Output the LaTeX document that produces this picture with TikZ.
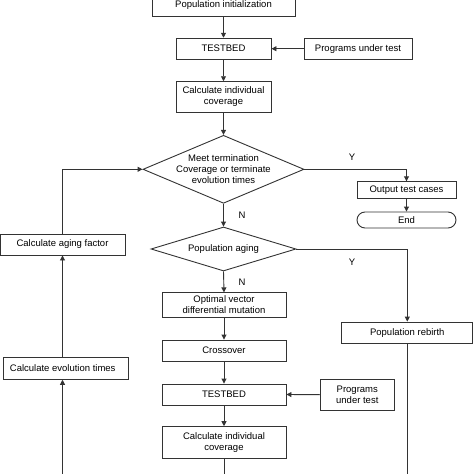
\documentclass[tikz,border=0pt]{standalone}
\usepackage{fontspec}
\setmainfont{Liberation Sans}
\usetikzlibrary{arrows.meta,shapes.geometric,shapes.misc}
\begin{document}
\begin{tikzpicture}[x=1pt,y=-1pt,
  every node/.style={font=\fontsize{9.5}{11}\selectfont, text=black},
  box/.style={draw=black!80, line width=0.9pt, rectangle, inner sep=0pt, align=center},
  dia/.style={draw=black!80, line width=0.9pt, diamond, inner sep=0pt},
  conn/.style={draw=black!80, line width=0.9pt},
  arr/.style={conn, -{Triangle[length=5pt,width=5pt]}},
  lbl/.style={inner sep=0pt, align=center}
]
\useasboundingbox (0,0) rectangle (474,474);

% main column
\node[box, minimum width=143pt, minimum height=22pt] (init) at (223.5,5) {Population initialization};
\node[box, minimum width=95pt, minimum height=21pt] (tb1) at (223.5,48.7) {TESTBED};
\node[box, minimum width=108pt, minimum height=21pt] (put1) at (358,48.7) {Programs under test};
\node[box, minimum width=95pt, minimum height=30.6pt] (cov1) at (223.5,97) {Calculate individual\\coverage};
\node[dia, minimum width=161pt, minimum height=68pt,
      label={[lbl]center:Meet termination\\Coverage or terminate\\evolution times}] (d1) at (223.5,169.3) {};
\node[box, minimum width=99pt, minimum height=16.5pt] (out) at (406.5,190) {Output test cases};
\node[draw=black!80, line width=0.9pt, rounded rectangle, inner sep=0pt, minimum width=99pt, minimum height=16pt] (end) at (406.5,220) {End};
\node[dia, minimum width=145pt, minimum height=44pt,
      label={[lbl]center:Population aging}] (d2) at (223.5,249) {};
\node[box, minimum width=124pt, minimum height=24.3pt] (opt) at (224,305) {Optimal vector\\differential mutation};
\node[box, minimum width=124pt, minimum height=21pt] (cross) at (224,350.5) {Crossover};
\node[box, minimum width=124pt, minimum height=21pt] (tb2) at (224,394.5) {TESTBED};
\node[box, minimum width=73.3pt, minimum height=30.7pt] (put2) at (357.3,394.7) {Programs\\under test};
\node[box, minimum width=124pt, minimum height=31.3pt] (cov2) at (224,442.3) {Calculate individual\\coverage};
\node[box, minimum width=131pt, minimum height=21.3pt] (reb) at (407.3,332.7) {Population rebirth};

% left column
\node[box, minimum width=125pt, minimum height=21pt] (agf) at (62.5,244.5) {Calculate aging factor};
\node[box, minimum width=125.3pt, minimum height=22pt] (evt) at (65.7,368.3) {\hspace*{-6pt}Calculate evolution times};

% labels
\node[lbl] (y1) at (352,157) {Y};
\node[lbl] (n1) at (242,215.7) {N};
\node[lbl] (y2) at (352,262) {Y};
\node[lbl] (n2) at (242,282) {N};

% free ends at the bottom edge
\coordinate (bm) at (224,480);
\coordinate (br) at (407.3,480);
\coordinate (bl) at (62.5,480);

% connectors
\draw[arr] (init.south) -- (tb1.north);
\draw[arr] (put1.west) -- (tb1.east);
\draw[arr] (tb1.south) -- (cov1.north);
\draw[arr] (cov1.south) -- (d1.north);
\draw[arr] (d1.east) -| (out.north);
\draw[arr] (out.south) -- (end.north);
\draw[arr] (d1.south) -- (d2.north);
\draw[arr] (d2.east) -| (reb.north);
\draw[arr] (d2.south) -- (opt.north);
\draw[arr] (opt.south) -- (cross.north);
\draw[arr] (cross.south) -- (tb2.north);
\draw[arr] (put2.west) -- (tb2.east);
\draw[arr] (tb2.south) -- (cov2.north);
\draw[conn] (cov2.south) -- (bm);
\draw[conn] (reb.south) -- (br);
\draw[arr] (bl) -- (bl |- evt.south);
\draw[arr] (bl |- evt.north) -- (agf.south);
\draw[arr] (agf.north) |- (d1.west);
\end{tikzpicture}
\end{document}
